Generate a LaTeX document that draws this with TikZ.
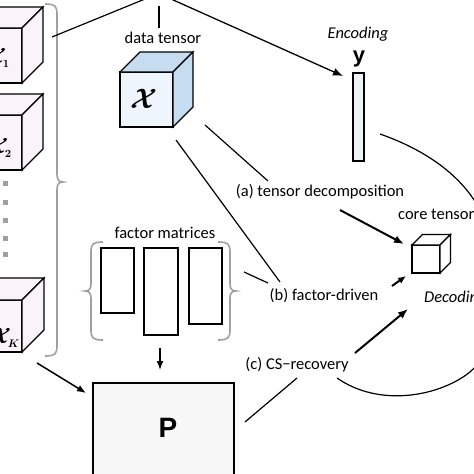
\RequirePackage{fix-cm}
\documentclass[tikz,border=0pt]{standalone}
\usepackage{fontspec}
\setmainfont{Carlito}
\newfontfamily\lsans{Liberation Sans}
\usetikzlibrary{arrows.meta}
\definecolor{cubepink}{RGB}{250,243,250}
\definecolor{xfront}{RGB}{238,245,252}
\definecolor{xside}{RGB}{197,220,241}
\definecolor{yfill}{RGB}{238,243,248}
\definecolor{pfill}{RGB}{247,247,247}
\definecolor{bracegray}{RGB}{160,160,160}
\newcommand\mycube[7]{%
  \filldraw[fill=#6,cubeline] (#1,#2) rectangle (#3,#4);
  \filldraw[fill=#7,cubeline] (#1,#2) -- ++(#5,-#5) -- (#3+#5,#2-#5) -- (#3,#2) -- cycle;
  \filldraw[fill=#7,cubeline] (#3,#2) -- ++(#5,-#5) -- (#3+#5,#4-#5) -- (#3,#4) -- cycle;
}
\begin{document}
\begin{tikzpicture}[x=1pt,y=-1pt,
  cubeline/.style={line width=1.2pt,line join=miter},
  lbl/.style={font=\fontsize{16.5}{18}\selectfont, inner sep=0pt},
  ilbl/.style={font=\fontsize{16.5}{18}\selectfont\itshape, inner sep=0pt},
  thinline/.style={line width=1.2pt},
  thickarrow/.style={line width=2pt,-{Latex[length=10pt,width=8pt]}},
  midarrow/.style={line width=1.5pt,-{Latex[length=9pt,width=7pt]}},
  bracestyle/.style={line width=1.6pt,draw=bracegray},
  matbox/.style={draw,line width=1.2pt,fill=white,inner sep=0pt},
  dotsq/.style={fill=bracegray,inner sep=0pt,minimum size=5pt},
  cubelbl/.style={font=\fontsize{22}{24}\selectfont\mathversion{bold},inner sep=0pt,anchor=east},
  bigx/.style={font=\fontsize{28}{30}\selectfont\mathversion{bold},inner sep=0pt}]
\clip (0,0) rectangle (474,474);
\fill[white] (0,0) rectangle (474,474);

% left cubes
\mycube{-40}{28}{22}{83}{21}{cubepink}{cubepink}
\mycube{-40}{115}{22}{170}{21}{cubepink}{cubepink}
\mycube{-40}{300}{22}{352}{22}{cubepink}{cubepink}
\node[cubelbl] (c1) at (10,58) {$\mathcal{X}_{\scriptscriptstyle 1}$};
\node[cubelbl] (c2) at (12,148) {$\mathcal{X}_{\scriptscriptstyle 2}$};
\node[cubelbl] (c3) at (20,338) {$\mathcal{X}_{\scriptscriptstyle K}$};
\foreach \yy [count=\i] in {183,202,220,238,254} \node[dotsq] (d\i) at (5.5,\yy) {};

% big right brace
\draw[bracestyle] (45,4) .. controls (55,4) and (57,6) .. (57,14) -- (57,174)
  .. controls (57,180) and (59,182) .. (63,182) .. controls (59,182) and (57,184) .. (57,190)
  -- (57,346) .. controls (57,354) and (55,356) .. (45,356);

% data tensor
\node[lbl] (dt) at (163,38) {data tensor};
\mycube{120}{72}{173}{127}{20}{xfront}{xside}
\node[bigx] (xl) at (144,99) {$\mathcal{X}$};

% top lines
\coordinate (lb) at (52,37);
\coordinate (topL) at (145,-1);
\coordinate (tickT) at (159,6);
\coordinate (tickB) at (159,28);
\coordinate (topR) at (171,-1);
\coordinate (yarr) at (343,76);
\draw[thinline] (lb) -- (topL);
\draw[thinline] (tickT) -- (tickB);
\draw[line width=1.3pt,-{Latex[length=10pt,width=8pt]}] (topR) -- (yarr);

% encoding
\node[ilbl] (enc) at (358,34) {Encoding};
\node[font=\lsans\bfseries\fontsize{22}{24}\selectfont,inner sep=0pt] (yl) at (359,59) {y};
\node[draw,line width=1.2pt,fill=yfill,minimum width=11pt,minimum height=88pt,inner sep=0pt] (yv) at (358.5,117) {};

% labels
\node[lbl] (atd) at (320,192) {(a) tensor decomposition};
\node[lbl] (bfd) at (324,296) {(b) factor-driven};
\node[lbl] (ccs) at (297,365) {(c) CS−recovery};
\node[lbl,anchor=west] (ct) at (398,214) {core tensor};
\node[ilbl,anchor=west] (dec) at (424,298) {Decoding};

% core tensor
\mycube{412}{245}{440}{273}{10.5}{white}{white}

% lines from data tensor
\coordinate (xa1) at (205,125); \coordinate (xa2) at (268,181);
\coordinate (xb1) at (176,140); \coordinate (xb2) at (280,282);
\coordinate (fb1) at (244,272); \coordinate (fb2) at (268,283);
\draw[thinline] (xa1) -- (xa2);
\draw[thinline] (xb1) -- (xb2);
\draw[thinline] (fb1) -- (fb2);

% arrows to core
\coordinate (aa1) at (340,210); \coordinate (aa2) at (404,244);
\coordinate (ba1) at (392,286); \coordinate (ba2) at (406,276);
\coordinate (ca1) at (355,353); \coordinate (ca2) at (408,309);
\draw[thickarrow] (aa1) -- (aa2);
\draw[line width=2pt,-{Latex[length=8pt,width=7pt]}] (ba1) -- (ba2);
\draw[thickarrow] (ca1) -- (ca2);

% decoding curve
\coordinate (dc1) at (380,134);
\coordinate (dc2) at (337,378);
\draw[thinline] (dc1) .. controls (420,148) and (460,172) .. (480,210)
  .. controls (520,285) and (505,340) .. (470,372)
  .. controls (440,396) and (380,408) .. (dc2);

% factor matrices
\node[lbl] (fm) at (165,233) {factor matrices};
\draw[bracestyle] (103,242) .. controls (93,242) and (91,244) .. (91,252) -- (91,284)
  .. controls (91,289) and (89,291) .. (85,291) .. controls (89,291) and (91,293) .. (91,298)
  -- (91,330) .. controls (91,338) and (93,340) .. (103,340);
\draw[bracestyle] (218,242) .. controls (228,242) and (230,244) .. (230,252) -- (230,284)
  .. controls (230,289) and (232,291) .. (236,291) .. controls (232,291) and (230,293) .. (230,298)
  -- (230,330) .. controls (230,338) and (228,340) .. (218,340);
\node[matbox,minimum width=33pt,minimum height=65pt] (m1) at (117.5,280.5) {};
\node[matbox,minimum width=34pt,minimum height=87pt] (m2) at (161,291.5) {};
\node[matbox,minimum width=33pt,minimum height=76pt] (m3) at (205.5,286) {};
\coordinate (fd1) at (160,348); \coordinate (fd2) at (160,370);
\draw[midarrow] (fd1) -- (fd2);

% P box
\node[draw,line width=1.2pt,fill=pfill,minimum width=141pt,minimum height=130pt,inner sep=0pt] (pb) at (163.5,448) {};
\node[font=\lsans\bfseries\fontsize{28}{30}\selectfont,inner sep=0pt] (pl) at (168,428) {P};
\coordinate (cp1) at (37,363); \coordinate (cp2) at (86,393);
\draw[midarrow] (cp1) -- (cp2);
\coordinate (pc1) at (245,422); \coordinate (pc2) at (297,378);
\draw[thinline] (pc1) -- (pc2);
\end{tikzpicture}
\end{document}
